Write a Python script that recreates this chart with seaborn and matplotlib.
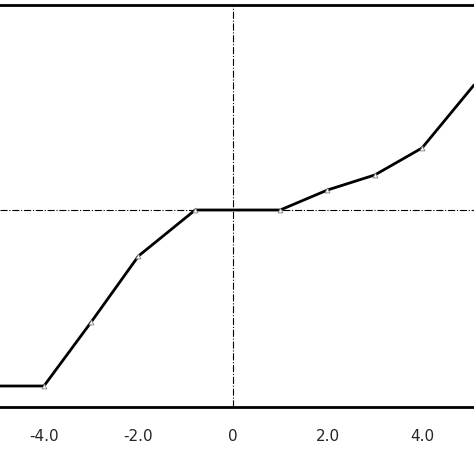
import matplotlib
matplotlib.use("Agg")
import matplotlib.pyplot as plt
import seaborn as sns
import pandas as pd

x_vals = [-4.95, -4.0, -3.0, -2.0, -0.8, 0.0, 1.0, 2.0, 3.0, 4.0, 5.1]
y_vals = [-3.52, -3.52, -2.24, -0.92, 0.0, 0.0, 0.0, 0.4, 0.7, 1.24, 2.5]
mark_x = [-4.0, -3.0, -2.0, -0.8, 1.0, 2.0, 3.0, 4.0]
mark_y = [-3.52, -2.24, -0.92, 0.0, 0.0, 0.4, 0.7, 1.24]
ticks = [-4.0, -2.0, 0.0, 2.0, 4.0]
tick_labels = ["-4.0", "-2.0", "0", "2.0", "4.0"]

sns.set_style("white")
fig = plt.figure(figsize=(4.74, 4.74), dpi=100)
ax = fig.add_axes([0, 1 - 407/474, 1, (407-5)/474])
df = pd.DataFrame({"x": x_vals, "y": y_vals})
sns.lineplot(data=df, x="x", y="y", ax=ax, color="black", lw=2, sort=False)
ax.scatter(mark_x, mark_y, marker="^", s=12, facecolors="white", edgecolors="gray", linewidths=0.6, zorder=3)
ax.axhline(0, color="black", ls="-.", lw=0.8)
ax.axvline(0, color="black", ls="-.", lw=0.8)
ax.set_xlim(-4.93, 5.1)
ax.set_ylim(-3.94, 4.1)
ax.set_xticks(ticks)
ax.set_xticklabels(tick_labels, fontsize=11)
ax.set_yticks([])
ax.set_xlabel(""); ax.set_ylabel("")
ax.tick_params(axis="x", length=4, direction="out", pad=12, color="black")
for s in ["left", "right"]:
    ax.spines[s].set_visible(False)
for s in ["top", "bottom"]:
    ax.spines[s].set_color("black"); ax.spines[s].set_linewidth(2)
fig.savefig("out.png", dpi=100)
